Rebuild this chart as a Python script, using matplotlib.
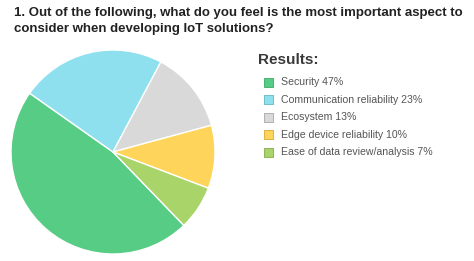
import matplotlib
matplotlib.use("Agg")
import matplotlib.pyplot as plt
from matplotlib.patches import Rectangle

labels = ["Security", "Communication reliability", "Ecosystem",
          "Edge device reliability", "Ease of data review/analysis"]
shares = [47, 23, 13, 10, 7]
colors = ["#57cc84", "#8ee0ee", "#d9d9d9", "#ffd45a", "#a8d46a"]
edges = ["#3fa866", "#5fb8c8", "#a8a8a8", "#d9a830", "#80ad48"]
title_lines = ["1. Out of the following, what do you feel is the most important aspect to",
               "consider when developing IoT solutions?"]

W, H = 474, 261
fig = plt.figure(figsize=(W / 100, H / 100), dpi=100)
plt.rcParams['font.family'] = ['Liberation Sans', 'DejaVu Sans']

for i, line in enumerate(title_lines):
    fig.text(14 / W, 1 - (13 + 16 * i) / H, line,
             fontsize=9.5, fontweight="bold", color="#222222",
             ha="left", va="center")

# pie: centre (113,152) px, radius 102 px
ax = fig.add_axes([11 / W, (H - 254) / H, 204 / W, 204 / H])
ax.pie(shares, colors=colors, startangle=314, counterclock=False,
       wedgeprops=dict(edgecolor="white", linewidth=1.0))
ax.set_xlim(-1.0, 1.0)
ax.set_ylim(-1.0, 1.0)
ax.set_aspect("equal")
ax.axis("off")

# legend drawn by hand
fig.text(258 / W, 1 - 60 / H, "Results:", fontsize=11, fontweight="bold",
         color="#3a3a3a", ha="left", va="center")
y0, dy = 82, 17.6
for i, (lab, val) in enumerate(zip(labels, shares)):
    yc = y0 + i * dy
    fig.patches.append(Rectangle((264 / W, 1 - (yc + 4.5) / H), 9 / W, 9 / H,
                                 transform=fig.transFigure, facecolor=colors[i],
                                 edgecolor=edges[i], linewidth=0.6))
    fig.text(281 / W, 1 - yc / H, "%s %d%%" % (lab, val), fontsize=7.6,
             color="#555555", ha="left", va="center")

fig.savefig("out.png", dpi=100)
